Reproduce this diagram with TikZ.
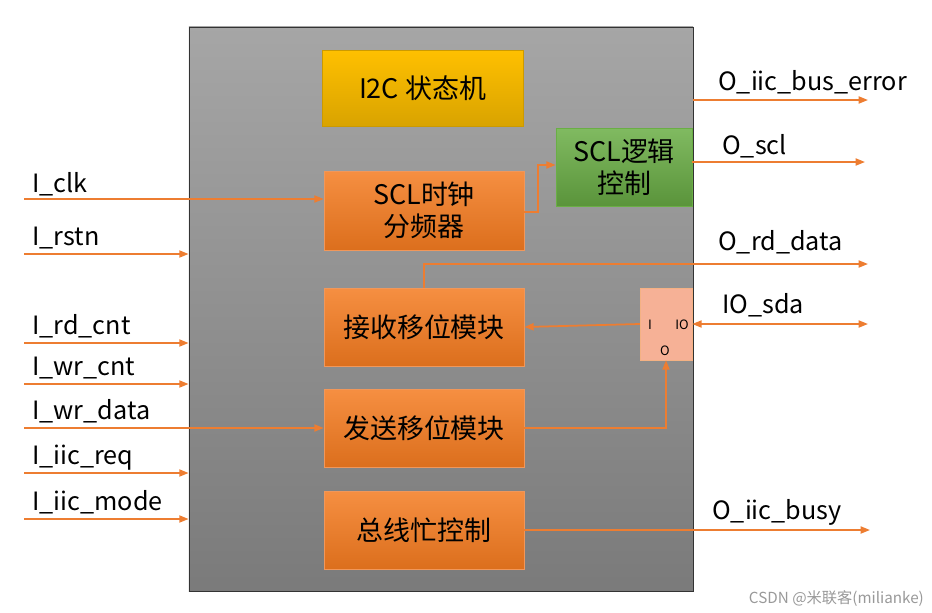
\documentclass[tikz,border=0pt]{standalone}
\usepackage{fontspec}
\setmainfont{Noto Sans CJK SC}
\usetikzlibrary{arrows.meta,positioning}
\definecolor{sigorange}{HTML}{ED7D31}
\definecolor{blkorange}{HTML}{F47B20}
\definecolor{blkgreen}{HTML}{6AAE45}
\definecolor{blkyellow}{HTML}{FFC000}
\definecolor{iopink}{HTML}{F6B196}
\tikzset{
  sig/.style={draw=sigorange, line width=1.5pt, -{Triangle[length=8pt,width=6pt]}},
  wire/.style={draw=sigorange, line width=1.5pt},
  blk/.style={rectangle, draw=sigorange!80!white, line width=0.5pt, minimum width=6cm, minimum height=2.34cm,
    top color=blkorange!85!white, bottom color=blkorange!90!black, font=\fontsize{23}{27}\selectfont, align=center},
  lbl/.style={anchor=base west, inner sep=0pt, font=\fontsize{21.5}{25}\selectfont}
}
\begin{document}
\begin{tikzpicture}[x=0.03cm,y=-0.03cm]
  \useasboundingbox (0,0) rectangle (932,612);

  % module frame and blocks
  \node (main) [draw=black!80, line width=0.6pt, minimum width=15.12cm, minimum height=16.92cm,
    top color=black!35, bottom color=black!52] at (441,309) {};
  \node (fsm) [blk, minimum width=6.03cm, minimum height=2.28cm, draw=blkyellow!80!black,
    top color=blkyellow, bottom color=blkyellow!85!black] at (422.5,88) {I2C 状态机};
  \node (scllogic) [blk, minimum width=4.08cm, draw=blkgreen, top color=blkgreen!85!white,
    bottom color=blkgreen!85!black] at (624,167) {SCL逻辑\\控制};
  \node (sclclk) [blk, minimum height=2.37cm] at (424,210.5) {SCL时钟\\分频器};
  \node (rx) [blk] at (424,327) {接收移位模块};
  \node (tx) [blk] at (424,428) {发送移位模块};
  \node (busy) [blk] at (424,530) {总线忙控制};
  \node (io) [draw=sigorange!60, fill=iopink, minimum width=1.56cm, minimum height=2.16cm] at (666,324) {};
  \node [font=\fontsize{11}{13}\selectfont] at (650,325) {I};
  \node [font=\fontsize{11}{13}\selectfont] at (682,325) {IO};
  \node [font=\fontsize{11}{13}\selectfont] at (665,351) {O};

  % inputs
  \draw [sig] (24,199) -- (sclclk.west |- 0,199);
  \node [lbl] at (32,192) {I\_clk};
  \draw [sig] (24,428) -- (tx.west);
  \node [lbl] at (32,419) {I\_wr\_data};
  \foreach \y/\txt in {254/I\_rstn, 343/I\_rd\_cnt, 384/I\_wr\_cnt, 473/I\_iic\_req, 519/I\_iic\_mode}
    {\draw [sig] (24,\y) -- (main.west |- 0,\y);
     \node [lbl] at (32,\y-9) {\txt};}

  % internal paths
  \draw [sig] (sclclk.east |- 0,212) -- (538,212) |- (scllogic.west |- 0,165);
  \draw [sig] (io.west) -- (rx.east);
  \draw [sig] (tx.east) -| (io.south);

  % outputs
  \coordinate (errout) at (868,100);
  \coordinate (sclout) at (865,162);
  \coordinate (rdout) at (868,264);
  \coordinate (sdaout) at (868,324);
  \coordinate (busyout) at (870,530);
  \draw [sig] (main.east |- errout) -- (errout);
  \node [lbl] at (718,90) {O\_iic\_bus\_error};
  \draw [sig] (scllogic.east |- sclout) -- (sclout);
  \node [lbl] at (722,154) {O\_scl};
  \draw [sig] (rx.north) |- (rdout);
  \node [lbl] at (718,250) {O\_rd\_data};
  \draw [sig, {Triangle[length=8pt,width=6pt]}-{Triangle[length=8pt,width=6pt]}] (io.east) -- (sdaout);
  \node [lbl] at (722,313) {IO\_sda};
  \draw [sig] (busy.east) -- (busyout);
  \node [lbl] at (712,519) {O\_iic\_busy};

  \node [anchor=base east, text=black!40, font=\fontsize{13}{15}\selectfont] at (928,603) {CSDN @米联客(milianke)};
\end{tikzpicture}
\end{document}
